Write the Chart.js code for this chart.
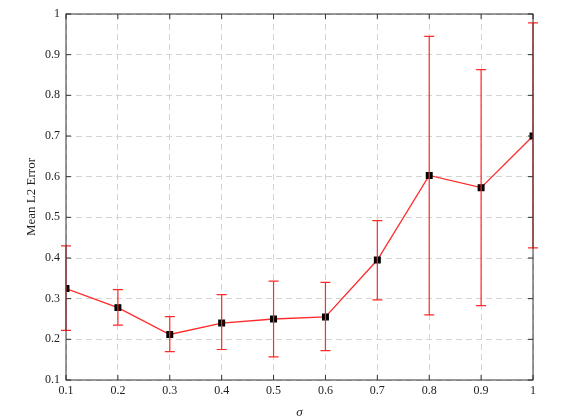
<!DOCTYPE html>
<html>
<head>
<meta charset="utf-8">
<script src="https://cdn.jsdelivr.net/npm/chart.js@4/dist/chart.umd.min.js"></script>
<style>
  html, body { margin: 0; padding: 0; background: #fff; }
  #wrap { width: 577px; height: 420px; }
</style>
</head>
<body>
<div id="wrap"><canvas id="chart"></canvas></div>
<script>
// data
const sigmas = [0.1, 0.2, 0.3, 0.4, 0.5, 0.6, 0.7, 0.8, 0.9, 1.0];
const meanErr = [0.325, 0.278, 0.212, 0.240, 0.250, 0.255, 0.395, 0.603, 0.573, 0.700];
const errLow = [0.222, 0.235, 0.170, 0.175, 0.157, 0.172, 0.297, 0.260, 0.283, 0.425];
const errHigh = [0.430, 0.322, 0.256, 0.310, 0.343, 0.340, 0.492, 0.945, 0.863, 0.978];

const RED = "#ff2a2a";

// error bars drawn through the scales
const errorBars = {
  id: "errorBars",
  afterDatasetsDraw(chart) {
    const { ctx, scales: { x, y } } = chart;
    ctx.save();
    ctx.strokeStyle = RED;
    ctx.lineWidth = 1.2;
    sigmas.forEach((s, i) => {
      const px = x.getPixelForValue(s);
      const lo = y.getPixelForValue(errLow[i]);
      const hi = y.getPixelForValue(errHigh[i]);
      ctx.beginPath();
      ctx.moveTo(px, lo); ctx.lineTo(px, hi);
      ctx.moveTo(px - 5, lo); ctx.lineTo(px + 5, lo);
      ctx.moveTo(px - 5, hi); ctx.lineTo(px + 5, hi);
      ctx.stroke();
    });
    ctx.restore();
  }
};

// box around plot + inward ticks
const frame = {
  id: "frame",
  afterDraw(chart) {
    const { ctx, chartArea: a, scales: { x, y } } = chart;
    ctx.save();
    ctx.strokeStyle = "#333";
    ctx.lineWidth = 1;
    ctx.strokeRect(a.left, a.top, a.right - a.left, a.bottom - a.top);
    ctx.beginPath();
    x.ticks.forEach(t => {
      const px = x.getPixelForValue(t.value);
      ctx.moveTo(px, a.bottom); ctx.lineTo(px, a.bottom - 5);
      ctx.moveTo(px, a.top); ctx.lineTo(px, a.top + 5);
    });
    y.ticks.forEach(t => {
      const py = y.getPixelForValue(t.value);
      ctx.moveTo(a.left, py); ctx.lineTo(a.left + 5, py);
      ctx.moveTo(a.right, py); ctx.lineTo(a.right - 5, py);
    });
    ctx.stroke();
    ctx.restore();
  }
};

const fmt = v => (Math.abs(v - 1) < 1e-9 ? "1" : v.toFixed(1));

new Chart(document.getElementById("chart"), {
  type: "line",
  data: {
    datasets: [{
      data: sigmas.map((s, i) => ({ x: s, y: meanErr[i] })),
      borderColor: RED,
      borderWidth: 1.3,
      pointStyle: "rect",
      pointRadius: 4,
      pointBackgroundColor: "#000",
      pointBorderColor: "#000",
      tension: 0
    }]
  },
  options: {
    responsive: true,
    maintainAspectRatio: false,
    animation: false,
    layout: { padding: { top: 14, right: 44, left: 24, bottom: 0 } },
    plugins: { legend: { display: false }, tooltip: { enabled: false } },
    scales: {
      x: {
        type: "linear", min: 0.1, max: 1.0,
        ticks: { stepSize: 0.1, callback: fmt, color: "#222", font: { family: "Liberation Serif", size: 12 }, padding: 4 },
        grid: { color: "#d4d4d4", drawTicks: false },
        border: { display: false, dash: [6, 4] },
        title: { display: true, text: "σ", color: "#222", font: { family: "Liberation Serif", size: 13, style: "italic" }, padding: 0 },
        afterFit(s) { s.height = 40; }
      },
      y: {
        min: 0.1, max: 1.0,
        ticks: { stepSize: 0.1, callback: fmt, color: "#222", font: { family: "Liberation Serif", size: 12 }, padding: 6 },
        grid: { color: "#d4d4d4", drawTicks: false },
        border: { display: false, dash: [6, 4] },
        title: { display: true, text: "Mean L2 Error", color: "#222", font: { family: "Liberation Serif", size: 13 }, padding: 0 },
        afterFit(s) { s.width = 42; }
      }
    }
  },
  plugins: [errorBars, frame]
});
</script>
</body>
</html>
